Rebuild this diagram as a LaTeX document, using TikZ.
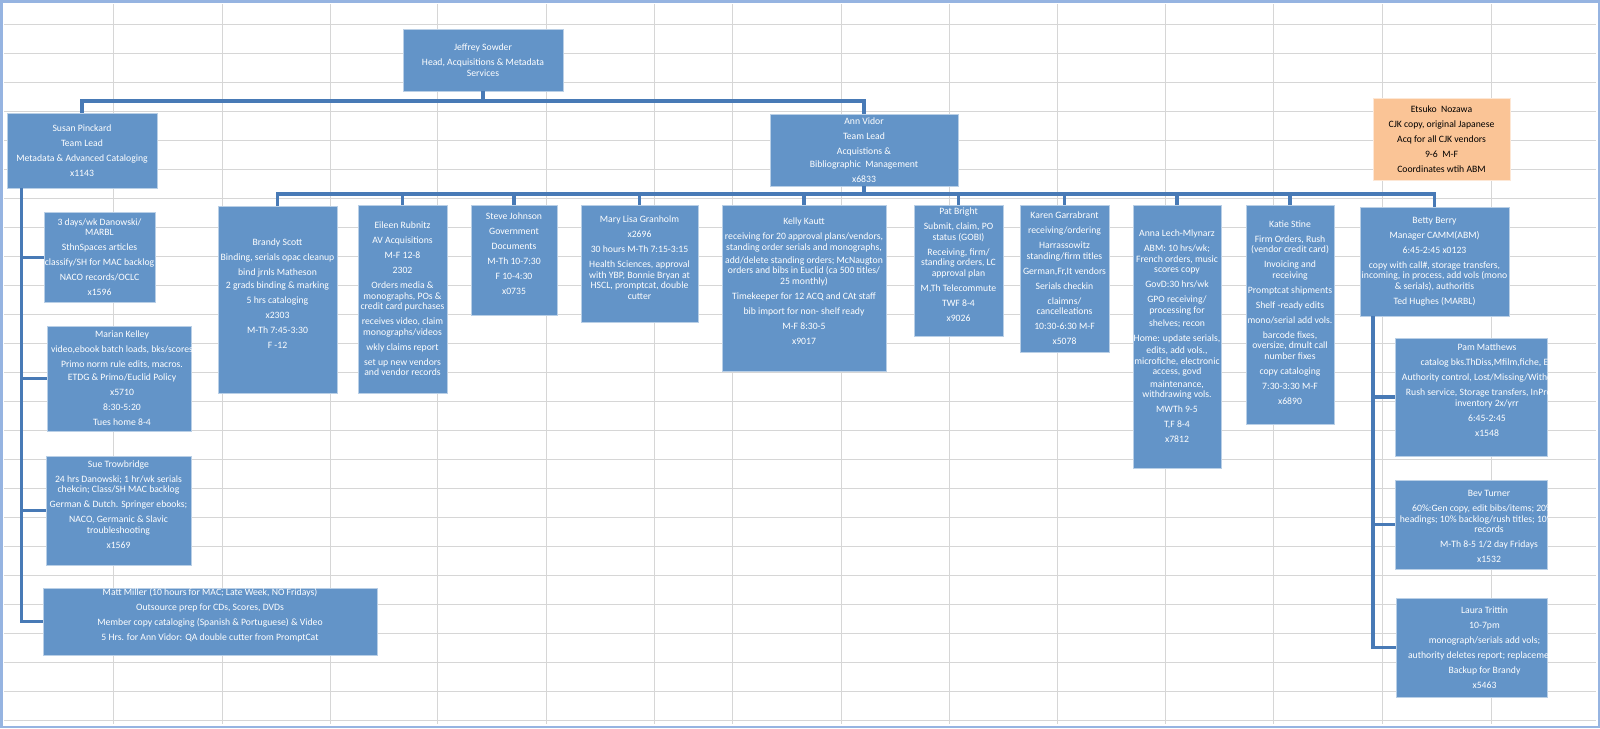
\documentclass[tikz,border=0pt]{standalone}
\usepackage{fontspec}
\setmainfont{Carlito}
\definecolor{boxblue}{RGB}{99,148,200}
\definecolor{connblue}{RGB}{72,122,182}
\definecolor{peach}{RGB}{250,196,150}
\definecolor{gridgray}{RGB}{214,214,214}
\definecolor{framecol}{RGB}{150,180,225}
\newcommand\pp{\\[4.5pt]}
\tikzset{
  boxsty/.style={fill=boxblue, draw=white!55!boxblue, line width=0.8pt, inner sep=0pt, outer sep=0pt},
  peachsty/.style={fill=peach, draw=white!60!peach, line width=0.8pt, inner sep=0pt, outer sep=0pt},
  txtsty/.style={text=white, align=center, inner sep=0pt, font=\fontsize{9.7}{10.5}\selectfont},
  darktxt/.style={txtsty, text=black},
  conn/.style={draw=connblue, line width=3.6pt},
  gridline/.style={draw=gridgray, line width=1pt}
}
\newcommand\obox[8][boxsty]{%
  \node[#1, minimum width={(#5-#3)*1pt}, minimum height={(#6-#4)*1pt}] (#2) at ({(#3+#5)/2},{(#4+#6)/2}) {};
  \begin{scope}
    \clip (#2.south west) rectangle (#2.north east);
    \node[#7] (#2-t) at (#2.center) {#8};
  \end{scope}
}
\begin{document}
\begin{tikzpicture}[x=1pt,y=-1pt]
\useasboundingbox (0,0) rectangle (1600,728);
\fill[white] (0,0) rectangle (1600,728);
% grid
\foreach \yy in {24,53,82,111,140,169,198,227,256,285,314,343,372,401,430,459,488,517,546,575,604,633,662,691,720}
  \draw[gridline] (4,\yy) -- (1596,\yy);
\foreach \xx in {113,222,330,437,546,654,732,841,949,1057,1165,1273,1382,1491}
  \draw[gridline] (\xx,4) -- (\xx,724);
\draw[framecol, line width=2.5pt] (1.25,1.25) rectangle (1598.75,726.75);

% boxes
\obox{jeff}{403}{29}{563}{91}{txtsty}{Jeffrey Sowder\pp Head, Acquisitions \& Metadata\\Services}
\obox{susan}{7}{113}{157}{188}{txtsty}{Susan Pinckard\pp Team Lead\pp Metadata \& Advanced Cataloging\pp x1143}
\obox{ann}{770}{114}{958}{186}{txtsty}{Ann Vidor\pp Team Lead\pp Acquistions \&\\[2.5pt] Bibliographic~~Management\pp x6833}
\obox[peachsty]{etsuko}{1373}{98}{1510}{180}{darktxt}{Etsuko~~Nozawa\pp CJK copy, original Japanese\pp Acq for all CJK vendors\pp 9-6~~M-F\pp Coordinates wtih ABM}

\obox{days3}{44}{212}{155}{302}{txtsty}{3 days/wk Danowski/\\MARBL\pp SthnSpaces articles\pp classify/SH for MAC backlog\pp NACO records/OCLC\pp x1596}
\obox{marian}{47}{326}{191}{431}{txtsty, xshift=3pt}{Marian Kelley\pp video,ebook batch loads, bks/scores\pp Primo norm rule edits, macros.\\[2.5pt] ETDG \& Primo/Euclid Policy\pp x5710\pp 8:30-5:20\pp Tues home 8-4}
\obox{sue}{46}{456}{191}{565}{txtsty, yshift=6pt}{Sue Trowbridge\pp 24 hrs Danowski; 1 hr/wk serials\\chekcin; Class/SH MAC backlog\pp German \& Dutch. Springer ebooks;\pp NACO, Germanic \& Slavic\\troubleshooting\pp x1569}
\obox{matt}{43}{588}{377}{655}{txtsty, yshift=6pt}{Matt Miller (10 hours for MAC; Late Week, NO Fridays)\pp Outsource prep for CDs, Scores, DVDs\pp Member copy cataloging (Spanish \& Portuguese) \& Video\pp 5 Hrs. for Ann Vidor: QA double cutter from PromptCat}

\obox{brandy}{218}{206}{337}{393}{txtsty, yshift=6pt}{Brandy Scott\pp Binding, serials opac cleanup\pp bind jrnls Matheson\\[3pt] 2 grads binding \& marking\pp 5 hrs cataloging\pp x2303\pp M-Th 7:45-3:30\pp F -12}
\obox{eileen}{358}{205}{447}{393}{txtsty}{Eileen Rubnitz\pp AV Acquisitions\pp M-F 12-8\pp 2302\pp Orders media \&\\monographs, POs \&\\credit card purchases\pp receives video, claim\\monographs/videos\pp wkly claims report\pp set up new vendors\\and vendor records}
\obox{steve}{471}{205}{557}{315}{txtsty, yshift=6pt}{Steve Johnson\pp Government\pp Documents\pp M-Th 10-7:30\pp F 10-4:30\pp x0735}
\obox{mary}{581}{205}{698}{322}{txtsty, yshift=6pt}{Mary Lisa Granholm\pp x2696\pp 30 hours M-Th 7:15-3:15\pp Health Sciences, approval\\with YBP, Bonnie Bryan at\\HSCL, promptcat, double\\cutter}
\obox{kelly}{722}{205}{886}{371}{txtsty, yshift=7pt}{Kelly Kautt\pp receiving for 20 approval plans/vendors,\\standing order serials and monographs,\\[2.5pt] add/delete standing orders; McNaugton\\orders and bibs in Euclid (ca 500 titles/\\25 monthly)\pp Timekeeper for 12 ACQ and CAt staff\pp bib import for non- shelf ready\pp M-F 8:30-5\pp x9017}
\obox{pat}{914}{205}{1003}{336}{txtsty, yshift=6pt}{Pat Bright\pp Submit, claim, PO\\status (GOBI)\pp Receiving, firm/\\standing orders, LC\\approval plan\pp M,Th Telecommute\pp TWF 8-4\pp x9026}
\obox{karen}{1020}{205}{1109}{352}{txtsty}{Karen Garrabrant\pp receiving/ordering\pp Harrassowitz\\standing/firm titles\pp German,Fr,It vendors\pp Serials checkin\pp claimns/\\cancelleations\pp 10:30-6:30 M-F\pp x5078}
\obox{anna}{1133}{205}{1221}{468}{txtsty}{Anna Lech-Mlynarz\pp ABM: 10 hrs/wk;\\French orders, music\\scores copy\pp GovD:30 hrs/wk\pp GPO receiving/\\processing for\\[2.5pt] shelves; recon\pp Home: update serials,\\[2pt] edits, add vols.,\\microfiche, electronic\\access, govd\\[2pt] maintenance,\\withdrawing vols.\pp MWTh 9-5\pp T,F 8-4\pp x7812}
\obox{katie}{1246}{205}{1334}{424}{txtsty, yshift=2pt}{Katie Stine\pp Firm Orders, Rush\\(vendor credit card)\pp Invoicing and\\receiving\pp Promptcat shipments\pp Shelf -ready edits\pp mono/serial add vols.\pp barcode fixes,\\oversize, dmult call\\number fixes\pp copy cataloging\pp 7:30-3:30 M-F\pp x6890}
\obox{betty}{1360}{207}{1509}{316}{txtsty}{Betty Berry\pp Manager CAMM(ABM)\pp 6:45-2:45 x0123\pp copy with call\#, storage transfers,\\incoming, in process, add vols (mono\\\& serials), authoritis\pp Ted Hughes (MARBL)}
\obox{pam}{1395}{338}{1547}{456}{txtsty, xshift=16pt, yshift=7pt}{Pam Matthews\pp catalog bks.ThDiss,Mfilm,fiche, ER\pp Authority control, Lost/Missing/Withdrawn\pp Rush service, Storage transfers, InProcess\\inventory 2x/yrr\pp 6:45-2:45\pp x1548}
\obox{bev}{1395}{480}{1547}{569}{txtsty, xshift=18pt, yshift=-2pt}{Bev Turner\pp 60\%:Gen copy, edit bibs/items; 20\% LTI\\headings; 10\% backlog/rush titles; 10\% Kirtas\\records\pp M-Th 8-5 1/2 day Fridays\pp x1532}
\obox{laura}{1396}{598}{1547}{697}{txtsty, xshift=13pt}{Laura Trittin\pp 10-7pm\pp monograph/serials add vols;\pp authority deletes report; replacements\pp Backup for Brandy\pp x5463}

% connectors
\draw[conn] (jeff.south) -- ++(0,10) -| (susan.north);
\draw[conn] (jeff.south) -- ++(0,10) -| (ann.north);
\foreach \c in {brandy,eileen,steve,mary,kelly,pat,karen,anna,katie,betty}
  \draw[conn] (ann.south) -- ++(0,8) -| (\c.north);
\coordinate (sv) at ([xshift=14pt]susan.south west);
\foreach \c in {days3,marian,sue,matt}
  \draw[conn, line width=3pt] (sv) |- (\c.west);
\coordinate (bv) at ([xshift=13pt]betty.south west);
\foreach \c in {pam,bev,laura}
  \draw[conn] (bv) |- (\c.west);
\end{tikzpicture}
\end{document}
